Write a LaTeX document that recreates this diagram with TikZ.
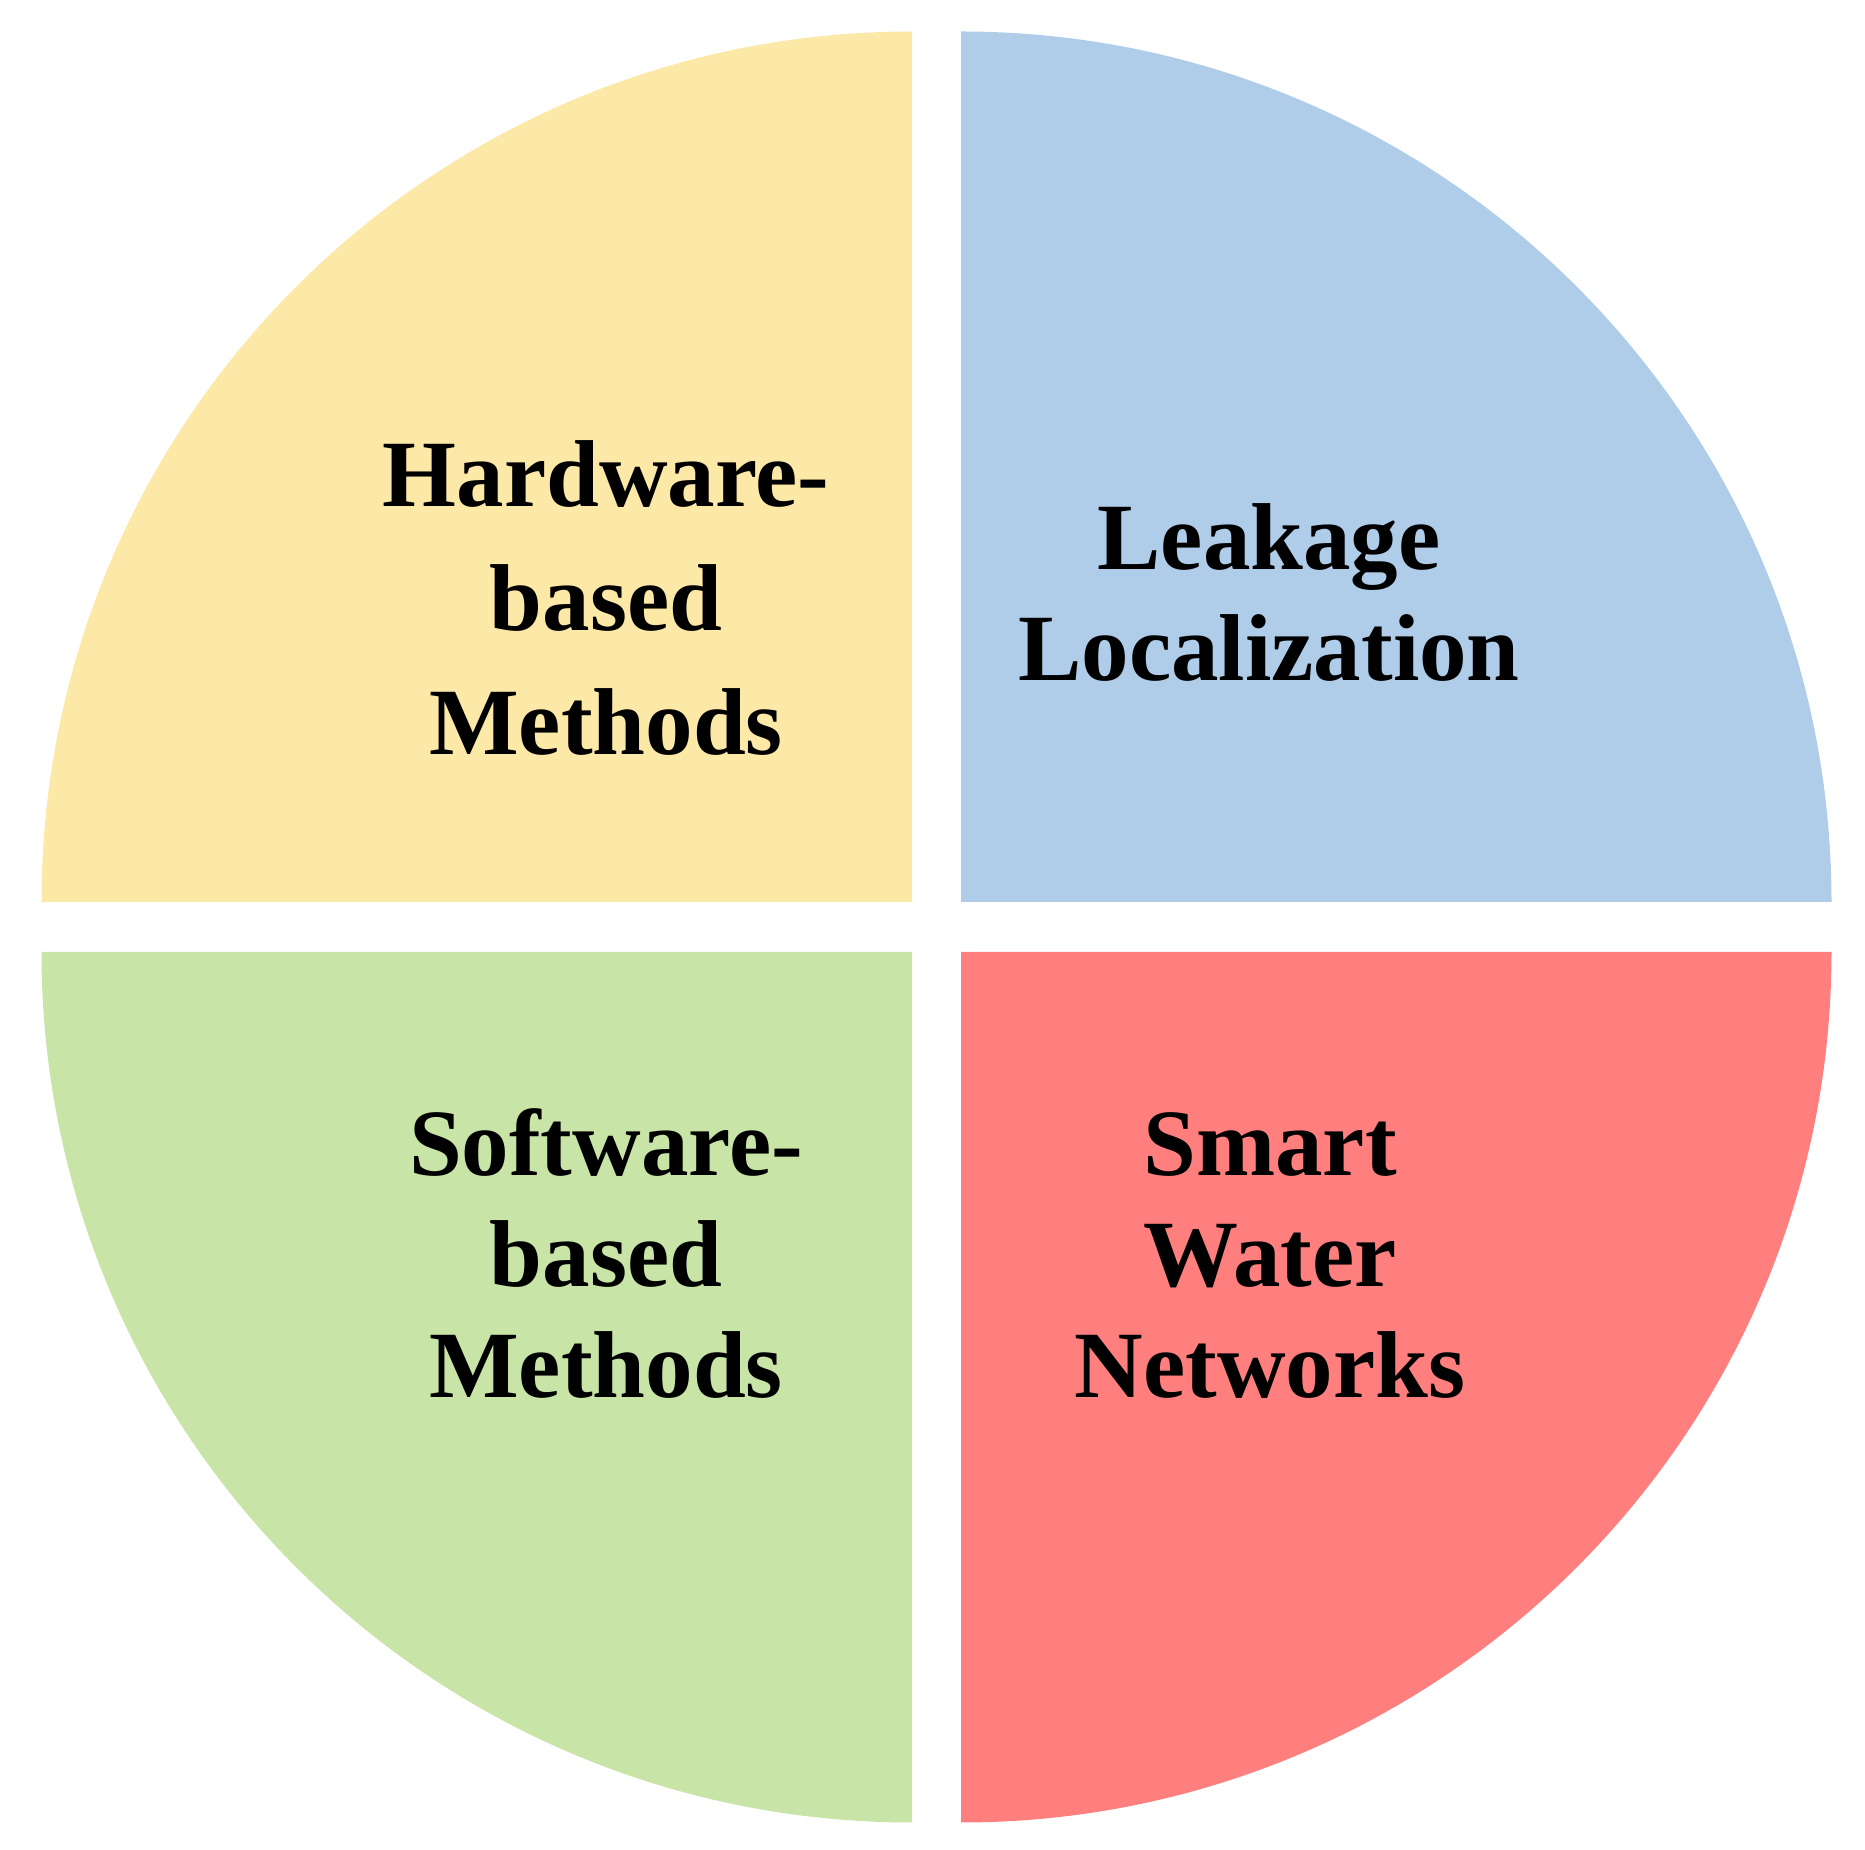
\documentclass[tikz,border=0pt]{standalone}
\usepackage{fontspec}
\setmainfont{Liberation Serif}
\usepackage{tikz}
\usetikzlibrary{positioning}
\definecolor{hwyellow}{RGB}{253,233,167}
\definecolor{llblue}{RGB}{175,204,233}
\definecolor{swgreen}{RGB}{201,228,167}
\definecolor{swnred}{RGB}{255,127,127}
\tikzset{
  sector/.style={draw=none},
  lbl/.style={
    align=center,
    anchor=base,
    inner sep=0pt,
    font=\bfseries\fontsize{47.5}{55.5}\selectfont},
  widelbl/.style={
    lbl,
    font=\bfseries\fontsize{47.5}{62}\selectfont},
}
\begin{document}
\begin{tikzpicture}[x=0.5pt,y=0.5pt]
  \useasboundingbox (0,0) rectangle (1865,1849);
  % four quarters, pulled apart
  \fill[sector, hwyellow] (912,947) -- (912,1817.5) arc (90:180:870.5) -- cycle;
  \fill[sector, llblue] (961,947) -- (1831.5,947) arc (0:90:870.5) -- cycle;
  \fill[sector, swgreen] (912,897) -- (41.5,897) arc (180:270:870.5) -- cycle;
  \fill[sector, swnred] (961,897) -- (961,26.5) arc (270:360:870.5) -- cycle;

  % base = last line
  \node[widelbl] (hw) at (606,1094) {Hardware-\\based\\Methods};
  \node[lbl] (ll) at (1269,1168) {Leakage\\Localization};
  \node[lbl] (sw) at (606,451) {Software-\\based\\Methods};
  \node[lbl] (swn) at (1270,451) {Smart\\Water\\Networks};
\end{tikzpicture}
\end{document}
